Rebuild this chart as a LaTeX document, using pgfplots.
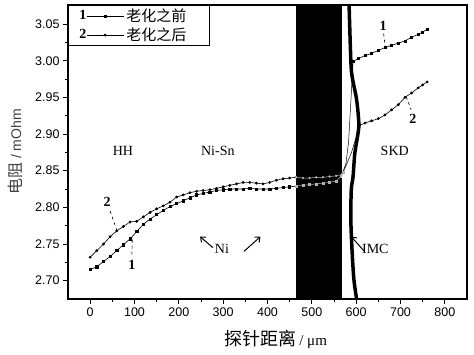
\documentclass[border=0pt]{standalone}
\usepackage{pgfplots}
\pgfplotsset{compat=1.18}
\usetikzlibrary{arrows.meta}
\usepackage{fontspec}
\setmainfont{Liberation Sans}
\newfontfamily\tnr{Liberation Serif}
\newfontfamily\cjk{Noto Sans CJK SC}
\pgfplotsset{
  leg1/.style={legend image code/.code={%
    \node[anchor=east,inner sep=0pt,font=\tnr\bfseries\fontsize{14}{14}\selectfont] at (-0.5pt,0pt) {\hspace*{9pt}1};
    \draw[##1] (0pt,0pt) -- (37pt,0pt);
    \draw[##1] plot coordinates {(18pt,0pt)};}},
  leg2/.style={legend image code/.code={%
    \node[anchor=east,inner sep=0pt,font=\tnr\bfseries\fontsize{14}{14}\selectfont] at (-0.5pt,0pt) {\hspace*{9pt}2};
    \draw[##1] (0pt,0pt) -- (37pt,0pt);
    \draw[##1] plot coordinates {(18pt,0pt)};}},
}
\begin{document}
\begin{tikzpicture}
\begin{axis}[
  scale only axis, width=399pt, height=294pt,
  xmin=-50, xmax=850, ymin=2.675, ymax=3.076,
  xtick={0,100,...,800}, ytick={2.70,2.75,...,3.06},
  minor x tick num=1, minor y tick num=1,
  tick align=outside, tick pos=left,
  major tick length=5pt, minor tick length=3pt,
  every tick/.style={black, line width=0.9pt},
  axis line style={line width=1.2pt},
  /pgf/number format/assume math mode=true,
  tick label style={font=\fontsize{12.5}{13}\selectfont},
  yticklabel style={/pgf/number format/fixed,/pgf/number format/fixed zerofill,/pgf/number format/precision=2},
  xlabel={{\cjk\fontsize{18}{20}\selectfont 探针距离}{\tnr\fontsize{15}{18}\selectfont\,/ μm}},
  ylabel={{\cjk\fontsize{16}{18}\selectfont 电阻}{\fontsize{14}{16}\selectfont\ / mOhm}},
  xlabel style={at={(axis description cs:0.521,-0.139)}, anchor=center},
  ylabel style={at={(axis description cs:-0.133,0.5)}, anchor=center, text=black!75},
  legend style={at={(rel axis cs:0,1)}, anchor=north west, draw=black, line width=0.7pt,
    font=\cjk\fontsize{15}{16}\selectfont, inner xsep=2pt, inner ysep=1.5pt, row sep=1pt,
    cells={anchor=west}},
  legend cell align=left,
  clip=true,
]
% black layer
\addplot[fill=black, draw=none, forget plot] coordinates {(464,2.675)(568,2.675)(568,3.076)(464,3.076)} -- cycle;
% IMC boundary
\addplot[black, line width=3.5pt, smooth, forget plot] coordinates {
(584,3.076)(588,3.00)(591,2.978)(601,2.947)(606,2.915)(604,2.90)(597,2.874)(593,2.842)(589,2.824)(588,2.783)(591,2.738)(595,2.701)(601,2.675)};
% series 1
\addplot[black, line width=0.6pt, mark=square*, mark size=1.1pt, leg1] coordinates {
(0,2.715)(15,2.719)(30,2.726)(45,2.733)(60,2.741)(75,2.749)(90,2.757)(105,2.767)(120,2.777)(135,2.784)(150,2.790)(165,2.796)(180,2.801)(195,2.805)(210,2.809)(225,2.813)(240,2.817)(255,2.819)(270,2.821)(285,2.823)(300,2.824)(315,2.825)(330,2.825)(345,2.825)(360,2.826)(375,2.825)(390,2.825)(405,2.825)(420,2.826)(435,2.827)(450,2.828)(465,2.829)};
\addlegendentry{老化之前\hspace*{19pt}}
% series 2
\addplot[black, line width=0.6pt, mark=*, mark size=1.1pt, leg2] coordinates {
(0,2.732)(15,2.741)(30,2.750)(45,2.760)(60,2.768)(75,2.774)(90,2.780)(105,2.781)(120,2.787)(135,2.793)(150,2.798)(165,2.802)(180,2.807)(195,2.814)(210,2.817)(225,2.820)(240,2.822)(255,2.823)(270,2.824)(285,2.826)(300,2.828)(315,2.830)(330,2.832)(345,2.834)(360,2.834)(375,2.833)(390,2.832)(405,2.834)(420,2.837)(435,2.839)(450,2.840)(465,2.841)};
\addlegendentry{老化之后\hspace*{19pt}}
% parts inside the black layer
\addplot[gray!60, line width=0.5pt, mark=square*, mark size=0.9pt, forget plot] coordinates {
(465,2.829)(480,2.830)(495,2.831)(510,2.832)(525,2.833)(540,2.834)(555,2.836)(565,2.842)(570,2.848)};
\addplot[gray!60, line width=0.5pt, mark=*, mark size=0.9pt, forget plot] coordinates {
(465,2.841)(480,2.840)(495,2.840)(510,2.841)(525,2.841)(540,2.842)(555,2.843)(568,2.845)};
% right parts
\addplot[black, line width=0.6pt, mark=square*, mark size=1.1pt, forget plot] coordinates {
(593,2.999)(605,3.003)(620,3.007)(635,3.010)(650,3.014)(665,3.018)(680,3.021)(695,3.024)(710,3.027)(725,3.032)(740,3.036)(750,3.039)(760,3.043)};
\addplot[black, line width=0.5pt, forget plot] coordinates {
(570,2.848)(577,2.860)(583,2.890)(589,2.955)(593,2.999)};
\addplot[black, line width=0.6pt, mark=*, mark size=1.1pt, forget plot] coordinates {
(608,2.912)(620,2.915)(635,2.918)(650,2.921)(665,2.926)(680,2.933)(695,2.940)(710,2.950)(725,2.956)(740,2.963)(750,2.967)(760,2.971)};
\addplot[black, line width=0.5pt, forget plot] coordinates {
(568,2.845)(578,2.858)(590,2.876)(600,2.896)(608,2.912)};
% annotations
\node[font=\tnr\fontsize{14}{14}\selectfont] at (axis cs:74,2.877) {HH};
\node[font=\tnr\fontsize{14}{14}\selectfont] at (axis cs:288,2.877) {Ni-Sn};
\node[font=\tnr\fontsize{14}{14}\selectfont] at (axis cs:687,2.877) {SKD};
\node[font=\tnr\fontsize{14}{14}\selectfont, anchor=west, inner sep=0pt] at (axis cs:613,2.743) {IMC};
\node[font=\tnr\fontsize{14}{14}\selectfont, anchor=west, inner sep=0pt] at (axis cs:281,2.743) {Ni};
\draw[line width=1pt, -{Straight Barb[length=4pt,width=7pt]}] (axis cs:617,2.741) -- (axis cs:589,2.760);
\draw[line width=1pt, -{Straight Barb[length=4pt,width=7pt]}] (axis cs:277,2.745) -- (axis cs:248,2.760);
\draw[line width=1pt, -{Straight Barb[length=4pt,width=7pt]}] (axis cs:347,2.740) -- (axis cs:384,2.760);
\node[font=\tnr\bfseries\fontsize{14}{14}\selectfont] at (axis cs:94,2.722) {1};
\draw[dashed, line width=0.6pt] (axis cs:95,2.756) -- (axis cs:94,2.733);
\node[font=\tnr\bfseries\fontsize{14}{14}\selectfont] at (axis cs:38,2.807) {2};
\draw[dashed, line width=0.6pt] (axis cs:45,2.795) -- (axis cs:60,2.769);
\node[font=\tnr\bfseries\fontsize{14}{14}\selectfont] at (axis cs:661,3.048) {1};
\draw[dashed, line width=0.6pt] (axis cs:662,3.037) -- (axis cs:666,3.017);
\node[font=\tnr\bfseries\fontsize{14}{14}\selectfont] at (axis cs:728,2.921) {2};
\draw[dashed, line width=0.6pt] (axis cs:713,2.951) -- (axis cs:724,2.933);
\coordinate (bl) at (rel axis cs:0,0);
\end{axis}
\pgfresetboundingbox
\path (bl) ++(-68pt,-55pt) rectangle ++(474pt,354pt);
\end{tikzpicture}
\end{document}
